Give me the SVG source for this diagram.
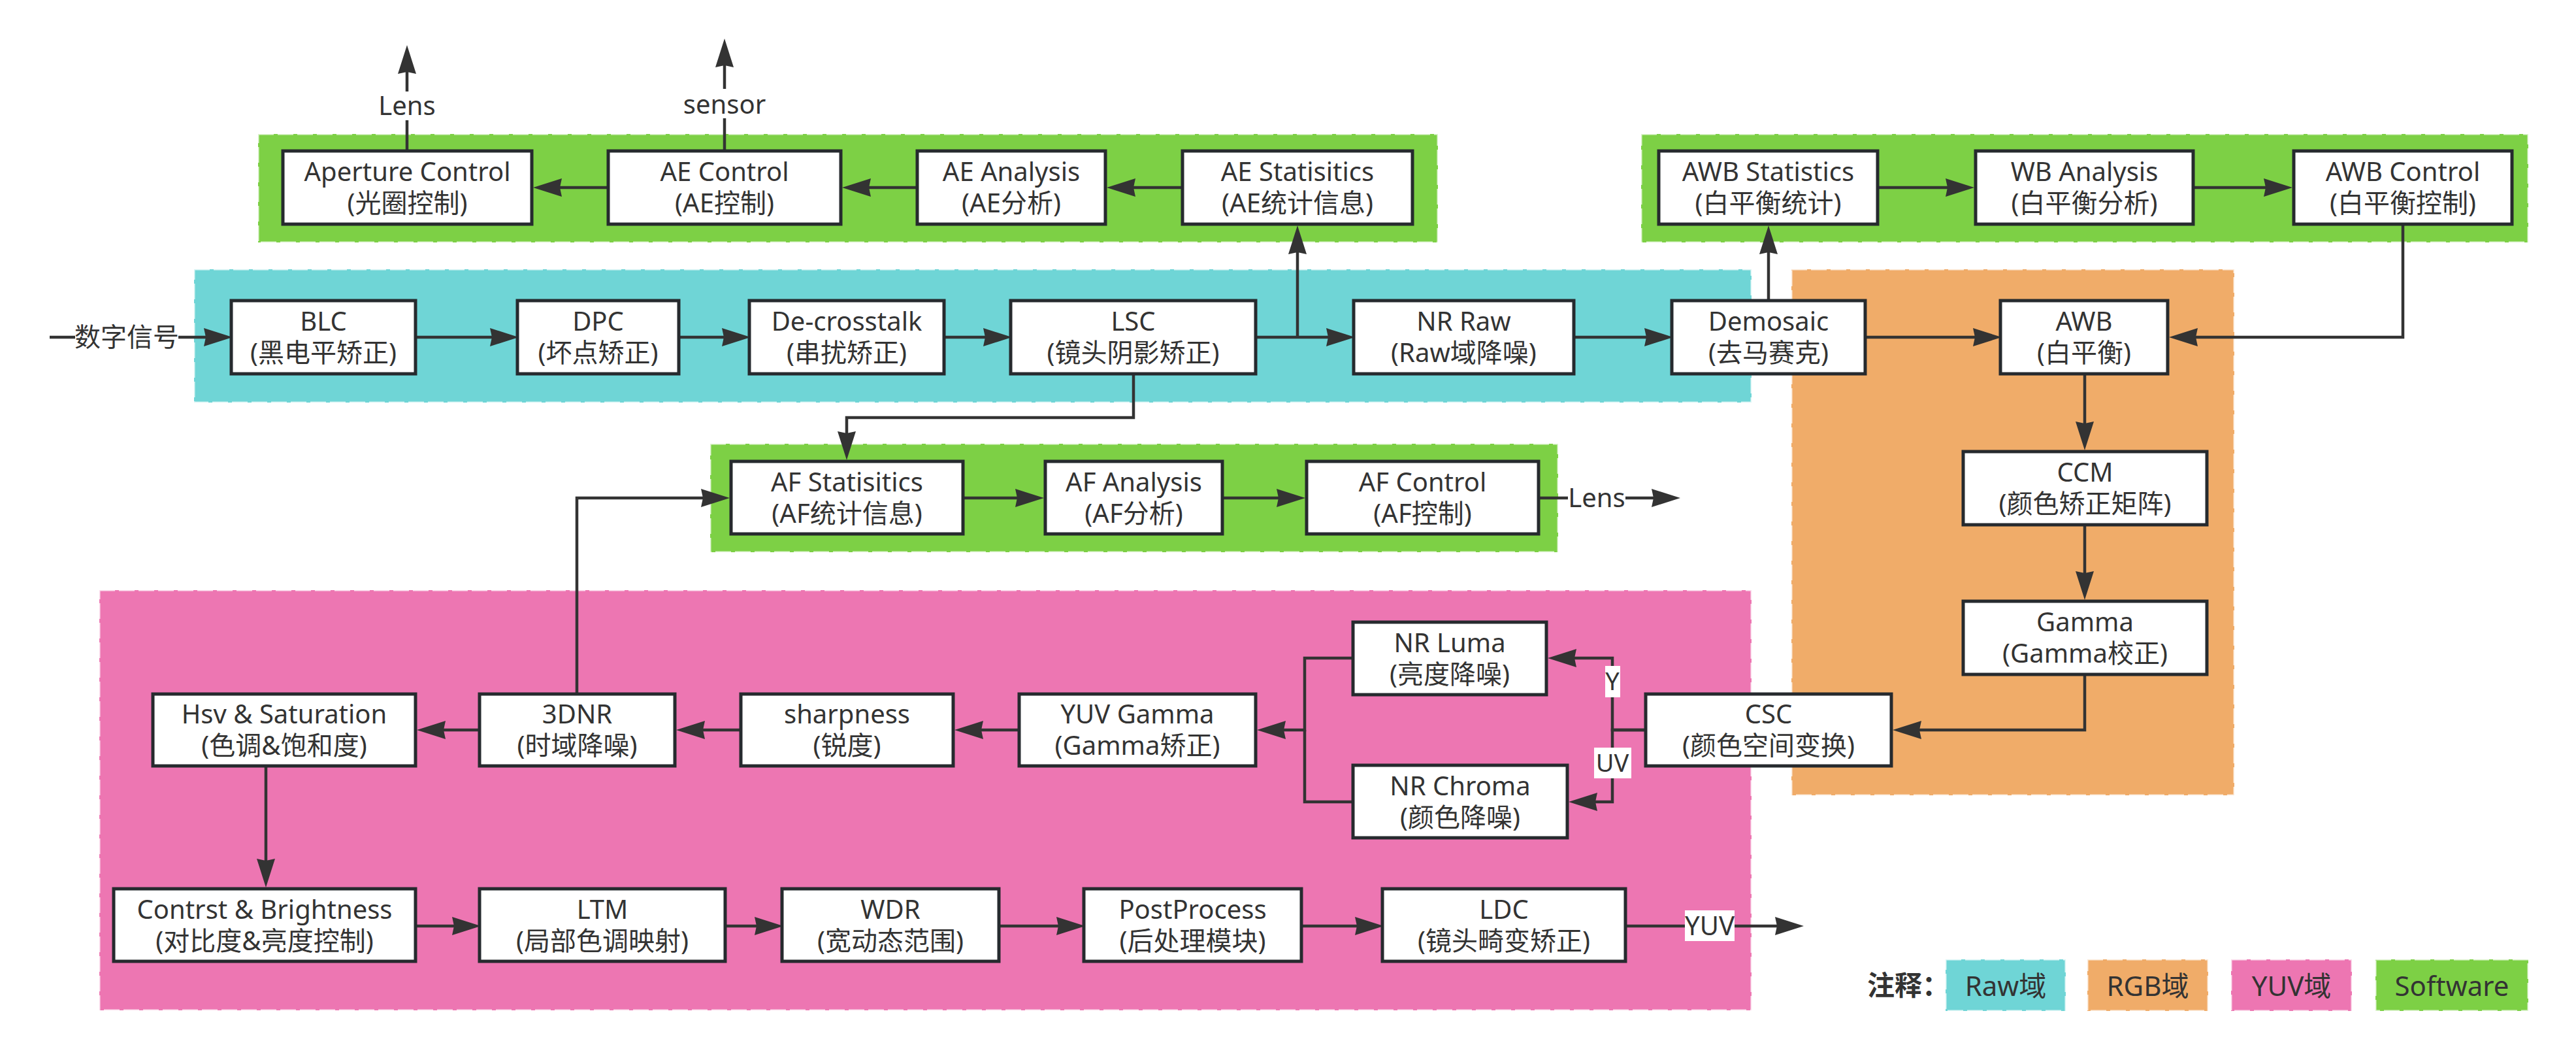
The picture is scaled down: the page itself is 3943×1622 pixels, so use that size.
<svg xmlns="http://www.w3.org/2000/svg" width="3943" height="1622" viewBox="0 0 3943 1622">
<style>
  .bg { fill:#ffffff; }
  .grp { stroke:#ffffff; stroke-opacity:0.75; stroke-width:3; stroke-dasharray:24 6; }
  .raw { fill:#6fd5d6; }
  .rgb { fill:#f0ac69; }
  .yuv { fill:#ed76b2; }
  .sw { fill:#7dd045; }
  .node rect { fill:#ffffff; stroke:#262a2e; stroke-width:5; }
  text { font-family:"Noto Sans","Noto Sans CJK SC",sans-serif; font-size:40px; fill:#333333; text-anchor:middle; }
  .conn path { fill:none; stroke:#333333; stroke-width:4.5; }
  .conn path.arr { marker-end:url(#arr); }
  .lblbg { fill:#ffffff; }
  .legend text { font-size:42px; }
  .note { font-weight:bold; font-size:38px; text-anchor:start; }
</style>
<defs>
  <marker id="arr" markerUnits="userSpaceOnUse" markerWidth="44" markerHeight="28" viewBox="0 0 44 28" refX="24" refY="14" orient="auto">
    <path d="M0,0 L44,14 L0,28 L3,14 Z" fill="#333333"/>
  </marker>
</defs>
<rect class="bg" x="0" y="0" width="3943" height="1622"/>

<g id="groups">
  <rect id="grp-ae" class="grp sw" x="395" y="205" width="1806" height="166"/>
  <rect id="grp-awb" class="grp sw" x="2512" y="205" width="1358" height="166"/>
  <rect id="grp-raw" class="grp raw" x="297" y="412" width="2384" height="204"/>
  <rect id="grp-rgb" class="grp rgb" x="2742" y="412" width="678" height="805"/>
  <rect id="grp-af" class="grp sw" x="1087" y="679" width="1298" height="166"/>
  <rect id="grp-yuv" class="grp yuv" x="152" y="903" width="2529" height="643"/>
</g>

<g id="connectors" class="conn">
  <!-- AE row -->
  <path class="arr" d="M1810,287 H1714"/>
  <path class="arr" d="M1404,287 H1309"/>
  <path class="arr" d="M931,287 H836"/>
  <path class="arr" d="M623,231 V89"/>
  <path class="arr" d="M1109,231 V79"/>
  <!-- AWB row -->
  <path class="arr" d="M2874,287 H3002"/>
  <path class="arr" d="M3357,287 H3489"/>
  <path class="arr" d="M3678,343 V516 H3340"/>
  <!-- Raw row -->
  <path class="arr" d="M76,516 H336"/>
  <path class="arr" d="M636,516 H774"/>
  <path class="arr" d="M1039,516 H1129"/>
  <path class="arr" d="M1445,516 H1529"/>
  <path class="arr" d="M1922,516 H2054"/>
  <path class="arr" d="M2409,516 H2541"/>
  <path class="arr" d="M2855,516 H3044"/>
  <path class="arr" d="M1986,516 V365"/>
  <path class="arr" d="M2707,460 V365"/>
  <path class="arr" d="M1735,572 V639 H1296 V684"/>
  <!-- RGB -->
  <path class="arr" d="M3191,572 V669"/>
  <path class="arr" d="M3191,803 V898"/>
  <path class="arr" d="M3191,1032 V1117 H2917"/>
  <!-- YUV -->
  <path class="arr" d="M2519,1117 H2468 V1007 H2389"/>
  <path class="arr" d="M2519,1117 H2468 V1227 H2421"/>
  <path class="arr" d="M2071,1007 H1997 V1117 H1944"/>
  <path d="M2071,1227 H1997 V1117"/>
  <path class="arr" d="M1560,1117 H1481"/>
  <path class="arr" d="M1134,1117 H1055"/>
  <path class="arr" d="M734,1117 H658"/>
  <path class="arr" d="M883,1062 V762 H1097"/>
  <path class="arr" d="M1474,762 H1578"/>
  <path class="arr" d="M1871,762 H1978"/>
  <path class="arr" d="M2355,762 H2552"/>
  <path class="arr" d="M407,1172 V1338"/>
  <path class="arr" d="M636,1417 H716"/>
  <path class="arr" d="M1110,1417 H1179"/>
  <path class="arr" d="M1529,1417 H1641"/>
  <path class="arr" d="M1992,1417 H2098"/>
  <path class="arr" d="M2488,1417 H2741"/>
  <!-- edge labels -->
  <rect class="lblbg" x="596" y="140" width="54" height="44"/>
  <text x="623" y="176">Lens</text>
  <rect class="lblbg" x="1062" y="136" width="94" height="45"/>
  <text x="1109" y="174">sensor</text>
  <rect class="lblbg" x="115" y="492" width="158" height="48"/>
  <text x="194" y="530">数字信号</text>
  <rect class="lblbg" x="2400" y="740" width="88" height="45"/>
  <text x="2444" y="776">Lens</text>
  <rect class="lblbg" x="2579" y="1393" width="76" height="47"/>
  <text x="2617" y="1431">YUV</text>
  <rect class="lblbg" x="2457" y="1019" width="23" height="48"/>
  <text x="2468" y="1056" style="font-size:38px">Y</text>
  <rect class="lblbg" x="2440" y="1144" width="57" height="47"/>
  <text x="2468" y="1181" style="font-size:38px">UV</text>
</g>

<g id="n-aperture" class="node"><rect x="433" y="231" width="381" height="112"/><text x="623.5" y="277">Aperture Control</text><text x="623.5" y="325">(光圈控制)</text></g>
<g id="n-aecontrol" class="node"><rect x="931" y="231" width="356" height="112"/><text x="1109" y="277">AE Control</text><text x="1109" y="325">(AE控制)</text></g>
<g id="n-aeanalysis" class="node"><rect x="1404" y="231" width="288" height="112"/><text x="1548" y="277">AE Analysis</text><text x="1548" y="325">(AE分析)</text></g>
<g id="n-aestats" class="node"><rect x="1810" y="231" width="352" height="112"/><text x="1986" y="277">AE Statisitics</text><text x="1986" y="325">(AE统计信息)</text></g>

<g id="n-awbstats" class="node"><rect x="2539" y="231" width="335" height="112"/><text x="2706.5" y="277">AWB Statistics</text><text x="2706.5" y="325">(白平衡统计)</text></g>
<g id="n-wbanalysis" class="node"><rect x="3024" y="231" width="333" height="112"/><text x="3190.5" y="277">WB Analysis</text><text x="3190.5" y="325">(白平衡分析)</text></g>
<g id="n-awbcontrol" class="node"><rect x="3511" y="231" width="334" height="112"/><text x="3678" y="277">AWB Control</text><text x="3678" y="325">(白平衡控制)</text></g>

<g id="n-blc" class="node"><rect x="354" y="460" width="282" height="112"/><text x="495" y="506">BLC</text><text x="495" y="554">(黑电平矫正)</text></g>
<g id="n-dpc" class="node"><rect x="792" y="460" width="247" height="112"/><text x="915.5" y="506">DPC</text><text x="915.5" y="554">(坏点矫正)</text></g>
<g id="n-decrosstalk" class="node"><rect x="1147" y="460" width="298" height="112"/><text x="1296" y="506">De-crosstalk</text><text x="1296" y="554">(串扰矫正)</text></g>
<g id="n-lsc" class="node"><rect x="1547" y="460" width="375" height="112"/><text x="1734.5" y="506">LSC</text><text x="1734.5" y="554">(镜头阴影矫正)</text></g>
<g id="n-nrraw" class="node"><rect x="2072" y="460" width="337" height="112"/><text x="2240.5" y="506">NR Raw</text><text x="2240.5" y="554">(Raw域降噪)</text></g>
<g id="n-demosaic" class="node"><rect x="2559" y="460" width="296" height="112"/><text x="2707" y="506">Demosaic</text><text x="2707" y="554">(去马赛克)</text></g>

<g id="n-awb" class="node"><rect x="3062" y="460" width="256" height="112"/><text x="3190" y="506">AWB</text><text x="3190" y="554">(白平衡)</text></g>
<g id="n-ccm" class="node"><rect x="3005" y="691" width="373" height="112"/><text x="3191.5" y="737">CCM</text><text x="3191.5" y="785">(颜色矫正矩阵)</text></g>
<g id="n-gamma" class="node"><rect x="3005" y="920" width="373" height="112"/><text x="3191.5" y="966">Gamma</text><text x="3191.5" y="1014">(Gamma校正)</text></g>

<g id="n-afstats" class="node"><rect x="1119" y="706" width="355" height="111"/><text x="1296.5" y="752">AF Statisitics</text><text x="1296.5" y="800">(AF统计信息)</text></g>
<g id="n-afanalysis" class="node"><rect x="1600" y="706" width="271" height="111"/><text x="1735.5" y="752">AF Analysis</text><text x="1735.5" y="800">(AF分析)</text></g>
<g id="n-afcontrol" class="node"><rect x="2000" y="706" width="355" height="111"/><text x="2177.5" y="752">AF Control</text><text x="2177.5" y="800">(AF控制)</text></g>

<g id="n-hsv" class="node"><rect x="234" y="1062" width="402" height="110"/><text x="435" y="1107">Hsv &amp; Saturation</text><text x="435" y="1155">(色调&amp;饱和度)</text></g>
<g id="n-3dnr" class="node"><rect x="734" y="1062" width="299" height="110"/><text x="883.5" y="1107">3DNR</text><text x="883.5" y="1155">(时域降噪)</text></g>
<g id="n-sharpness" class="node"><rect x="1134" y="1062" width="325" height="110"/><text x="1296.5" y="1107">sharpness</text><text x="1296.5" y="1155">(锐度)</text></g>
<g id="n-yuvgamma" class="node"><rect x="1560" y="1062" width="362" height="110"/><text x="1741" y="1107">YUV Gamma</text><text x="1741" y="1155">(Gamma矫正)</text></g>
<g id="n-nrluma" class="node"><rect x="2071" y="952" width="296" height="111"/><text x="2219" y="998">NR Luma</text><text x="2219" y="1046">(亮度降噪)</text></g>
<g id="n-nrchroma" class="node"><rect x="2071" y="1171" width="328" height="111"/><text x="2235" y="1217">NR Chroma</text><text x="2235" y="1265">(颜色降噪)</text></g>
<g id="n-csc" class="node"><rect x="2519" y="1062" width="376" height="110"/><text x="2707" y="1107">CSC</text><text x="2707" y="1155">(颜色空间变换)</text></g>

<g id="n-contrast" class="node"><rect x="174" y="1360" width="462" height="111"/><text x="405" y="1406">Contrst &amp; Brightness</text><text x="405" y="1454">(对比度&amp;亮度控制)</text></g>
<g id="n-ltm" class="node"><rect x="734" y="1360" width="376" height="111"/><text x="922" y="1406">LTM</text><text x="922" y="1454">(局部色调映射)</text></g>
<g id="n-wdr" class="node"><rect x="1197" y="1360" width="332" height="111"/><text x="1363" y="1406">WDR</text><text x="1363" y="1454">(宽动态范围)</text></g>
<g id="n-postprocess" class="node"><rect x="1659" y="1360" width="333" height="111"/><text x="1825.5" y="1406">PostProcess</text><text x="1825.5" y="1454">(后处理模块)</text></g>
<g id="n-ldc" class="node"><rect x="2116" y="1360" width="372" height="111"/><text x="2302" y="1406">LDC</text><text x="2302" y="1454">(镜头畸变矫正)</text></g>

<g id="legend" class="legend">
  <text class="note" x="2858" y="1523">注释：</text>
  <rect class="grp raw" x="2978" y="1468" width="184" height="79"/>
  <text x="3070" y="1524">Raw域</text>
  <rect class="grp rgb" x="3195" y="1468" width="185" height="79"/>
  <text x="3287.5" y="1524">RGB域</text>
  <rect class="grp yuv" x="3415" y="1468" width="185" height="79"/>
  <text x="3507.5" y="1524">YUV域</text>
  <rect class="grp sw" x="3636" y="1468" width="234" height="79"/>
  <text x="3753" y="1524">Software</text>
</g>
</svg>
